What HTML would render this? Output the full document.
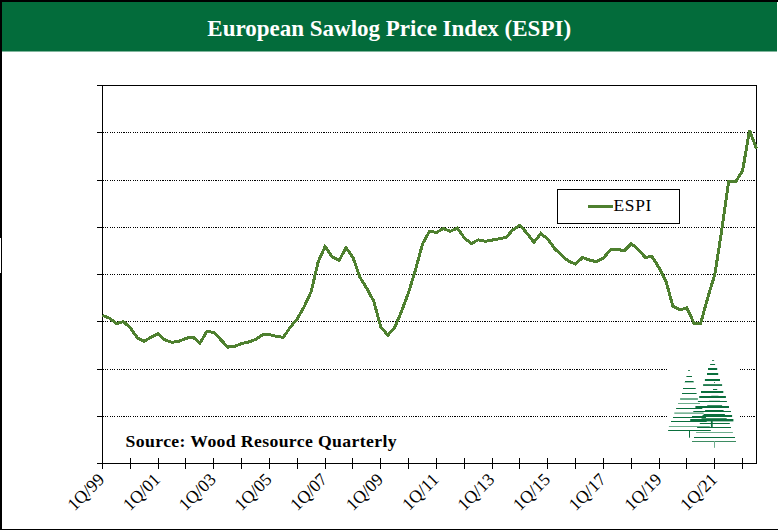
<!DOCTYPE html>
<html><head><meta charset="utf-8"><title>European Sawlog Price Index (ESPI)</title>
<style>
html,body{margin:0;padding:0;background:#fff;}
body{width:778px;height:530px;overflow:hidden;position:relative;font-family:"Liberation Serif",serif;}
svg{position:absolute;left:0;top:0;display:block;}
text{font-family:"Liberation Serif",serif;}
</style></head><body>
<svg width="778" height="530" viewBox="0 0 778 530">
<rect x="0" y="0" width="778" height="530" fill="#ffffff"/>
<!-- banner -->
<rect x="2" y="2" width="775" height="49.5" fill="#036c3b"/>
<!-- outer borders -->
<rect x="0" y="0" width="778" height="2" fill="#000"/>
<rect x="0" y="0" width="2" height="530" fill="#000"/>
<rect x="0" y="238" width="1" height="35" fill="#fff"/>
<rect x="0" y="529" width="778" height="1" fill="#000"/>
<text x="389.2" y="35.8" text-anchor="middle" font-size="23" font-weight="bold" fill="#ffffff">European Sawlog Price Index (ESPI)</text>
<!-- gridlines -->
<g stroke="#000" stroke-width="1" fill="none" shape-rendering="crispEdges"><path transform="translate(0 132.5)" d="M103 0h1m1 0h1m1 0h1m2 0h1m1 0h1m1 0h1m2 0h1m1 0h1m1 0h1m1 0h2m1 0h1m1 0h1m1 0h1m2 0h1m1 0h1m1 0h1m2 0h1m1 0h1m1 0h1m1 0h2m1 0h1m1 0h1m1 0h1m2 0h1m1 0h1m1 0h1m1 0h2m1 0h1m1 0h1m1 0h2m1 0h1m1 0h1m1 0h1m2 0h1m1 0h1m1 0h1m1 0h2m1 0h1m1 0h1m1 0h2m1 0h1m1 0h1m1 0h1m2 0h1m1 0h1m1 0h1m1 0h2m1 0h1m1 0h1m1 0h2m1 0h1m1 0h1m1 0h1m2 0h1m1 0h1m1 0h1m1 0h2m1 0h1m1 0h1m1 0h2m1 0h1m1 0h1m1 0h1m2 0h1m1 0h1m1 0h1m1 0h2m1 0h1m1 0h1m1 0h2m1 0h1m1 0h1m1 0h1m2 0h1m1 0h1m1 0h1m1 0h2m1 0h1m1 0h1m1 0h2m1 0h1m1 0h1m1 0h1m2 0h1m1 0h1m1 0h1m1 0h2m1 0h1m1 0h1m1 0h1m2 0h1m1 0h1m1 0h1m2 0h1m1 0h1m1 0h1m1 0h2m1 0h1m1 0h1m1 0h1m2 0h1m1 0h1m1 0h1m2 0h1m1 0h1m1 0h1m1 0h2m1 0h1m1 0h1m1 0h1m2 0h1m1 0h1m1 0h1m2 0h1m1 0h1m1 0h1m1 0h2m1 0h1m1 0h1m1 0h1m2 0h1m1 0h1m1 0h1m2 0h1m1 0h1m1 0h1m1 0h2m1 0h1m1 0h1m1 0h1m2 0h1m1 0h1m1 0h1m2 0h1m1 0h1m1 0h1m1 0h2m1 0h1m1 0h1m1 0h1m2 0h1m1 0h1m1 0h1m2 0h1m1 0h1m1 0h1m1 0h2m1 0h1m1 0h1m1 0h1m2 0h1m1 0h1m1 0h1m1 0h2m1 0h1m1 0h1m1 0h2m1 0h1m1 0h1m1 0h1m2 0h1m1 0h1m1 0h1m1 0h2m1 0h1m1 0h1m1 0h2m1 0h1m1 0h1m1 0h1m2 0h1m1 0h1m1 0h1m1 0h2m1 0h1m1 0h1m1 0h2m1 0h1m1 0h1m1 0h1m2 0h1m1 0h1m1 0h1m1 0h2m1 0h1m1 0h1m1 0h2m1 0h1m1 0h1m1 0h1m2 0h1m1 0h1m1 0h1m1 0h2m1 0h1m1 0h1m1 0h2m1 0h1m1 0h1m1 0h1m2 0h1m1 0h1m1 0h1m1 0h2m1 0h1m1 0h1m1 0h2m1 0h1m1 0h1m1 0h1m2 0h1m1 0h1m1 0h1m1 0h2m1 0h1m1 0h1m1 0h2m1 0h1m1 0h1m1 0h1m2 0h1m1 0h1m1 0h1m1 0h2m1 0h1m1 0h1m1 0h1m2 0h1m1 0h1m1 0h1m2 0h1m1 0h1m1 0h1m1 0h2m1 0h1m1 0h1m1 0h1m2 0h1m1 0h1m1 0h1m2 0h1m1 0h1m1 0h1m1 0h2m1 0h1m1 0h1m1 0h1m2 0h1m1 0h1m1 0h1m2 0h1m1 0h1m1 0h1m1 0h2m1 0h1m1 0h1m1 0h1m2 0h1m1 0h1m1 0h1m2 0h1m1 0h1m1 0h1m1 0h2m1 0h1m1 0h1m1 0h1m2 0h1m1 0h1m1 0h1m2 0h1m1 0h1m1 0h1m1 0h2m1 0h1m1 0h1m1 0h1m2 0h1m1 0h1m1 0h1m2 0h1m1 0h1m1 0h1m1 0h2"/><path transform="translate(0 180.5)" d="M103 0h1m1 0h1m1 0h1m2 0h1m1 0h1m1 0h1m2 0h1m1 0h1m1 0h1m1 0h2m1 0h1m1 0h1m1 0h1m2 0h1m1 0h1m1 0h1m2 0h1m1 0h1m1 0h1m1 0h2m1 0h1m1 0h1m1 0h1m2 0h1m1 0h1m1 0h1m1 0h2m1 0h1m1 0h1m1 0h2m1 0h1m1 0h1m1 0h1m2 0h1m1 0h1m1 0h1m1 0h2m1 0h1m1 0h1m1 0h2m1 0h1m1 0h1m1 0h1m2 0h1m1 0h1m1 0h1m1 0h2m1 0h1m1 0h1m1 0h2m1 0h1m1 0h1m1 0h1m2 0h1m1 0h1m1 0h1m1 0h2m1 0h1m1 0h1m1 0h2m1 0h1m1 0h1m1 0h1m2 0h1m1 0h1m1 0h1m1 0h2m1 0h1m1 0h1m1 0h2m1 0h1m1 0h1m1 0h1m2 0h1m1 0h1m1 0h1m1 0h2m1 0h1m1 0h1m1 0h2m1 0h1m1 0h1m1 0h1m2 0h1m1 0h1m1 0h1m1 0h2m1 0h1m1 0h1m1 0h1m2 0h1m1 0h1m1 0h1m2 0h1m1 0h1m1 0h1m1 0h2m1 0h1m1 0h1m1 0h1m2 0h1m1 0h1m1 0h1m2 0h1m1 0h1m1 0h1m1 0h2m1 0h1m1 0h1m1 0h1m2 0h1m1 0h1m1 0h1m2 0h1m1 0h1m1 0h1m1 0h2m1 0h1m1 0h1m1 0h1m2 0h1m1 0h1m1 0h1m2 0h1m1 0h1m1 0h1m1 0h2m1 0h1m1 0h1m1 0h1m2 0h1m1 0h1m1 0h1m2 0h1m1 0h1m1 0h1m1 0h2m1 0h1m1 0h1m1 0h1m2 0h1m1 0h1m1 0h1m2 0h1m1 0h1m1 0h1m1 0h2m1 0h1m1 0h1m1 0h1m2 0h1m1 0h1m1 0h1m1 0h2m1 0h1m1 0h1m1 0h2m1 0h1m1 0h1m1 0h1m2 0h1m1 0h1m1 0h1m1 0h2m1 0h1m1 0h1m1 0h2m1 0h1m1 0h1m1 0h1m2 0h1m1 0h1m1 0h1m1 0h2m1 0h1m1 0h1m1 0h2m1 0h1m1 0h1m1 0h1m2 0h1m1 0h1m1 0h1m1 0h2m1 0h1m1 0h1m1 0h2m1 0h1m1 0h1m1 0h1m2 0h1m1 0h1m1 0h1m1 0h2m1 0h1m1 0h1m1 0h2m1 0h1m1 0h1m1 0h1m2 0h1m1 0h1m1 0h1m1 0h2m1 0h1m1 0h1m1 0h2m1 0h1m1 0h1m1 0h1m2 0h1m1 0h1m1 0h1m1 0h2m1 0h1m1 0h1m1 0h2m1 0h1m1 0h1m1 0h1m2 0h1m1 0h1m1 0h1m1 0h2m1 0h1m1 0h1m1 0h1m2 0h1m1 0h1m1 0h1m2 0h1m1 0h1m1 0h1m1 0h2m1 0h1m1 0h1m1 0h1m2 0h1m1 0h1m1 0h1m2 0h1m1 0h1m1 0h1m1 0h2m1 0h1m1 0h1m1 0h1m2 0h1m1 0h1m1 0h1m2 0h1m1 0h1m1 0h1m1 0h2m1 0h1m1 0h1m1 0h1m2 0h1m1 0h1m1 0h1m2 0h1m1 0h1m1 0h1m1 0h2m1 0h1m1 0h1m1 0h1m2 0h1m1 0h1m1 0h1m2 0h1m1 0h1m1 0h1m1 0h2m1 0h1m1 0h1m1 0h1m2 0h1m1 0h1m1 0h1m2 0h1m1 0h1m1 0h1m1 0h2"/><path transform="translate(0 227.5)" d="M103 0h1m1 0h1m1 0h1m2 0h1m1 0h1m1 0h1m2 0h1m1 0h1m1 0h1m1 0h2m1 0h1m1 0h1m1 0h1m2 0h1m1 0h1m1 0h1m2 0h1m1 0h1m1 0h1m1 0h2m1 0h1m1 0h1m1 0h1m2 0h1m1 0h1m1 0h1m1 0h2m1 0h1m1 0h1m1 0h2m1 0h1m1 0h1m1 0h1m2 0h1m1 0h1m1 0h1m1 0h2m1 0h1m1 0h1m1 0h2m1 0h1m1 0h1m1 0h1m2 0h1m1 0h1m1 0h1m1 0h2m1 0h1m1 0h1m1 0h2m1 0h1m1 0h1m1 0h1m2 0h1m1 0h1m1 0h1m1 0h2m1 0h1m1 0h1m1 0h2m1 0h1m1 0h1m1 0h1m2 0h1m1 0h1m1 0h1m1 0h2m1 0h1m1 0h1m1 0h2m1 0h1m1 0h1m1 0h1m2 0h1m1 0h1m1 0h1m1 0h2m1 0h1m1 0h1m1 0h2m1 0h1m1 0h1m1 0h1m2 0h1m1 0h1m1 0h1m1 0h2m1 0h1m1 0h1m1 0h1m2 0h1m1 0h1m1 0h1m2 0h1m1 0h1m1 0h1m1 0h2m1 0h1m1 0h1m1 0h1m2 0h1m1 0h1m1 0h1m2 0h1m1 0h1m1 0h1m1 0h2m1 0h1m1 0h1m1 0h1m2 0h1m1 0h1m1 0h1m2 0h1m1 0h1m1 0h1m1 0h2m1 0h1m1 0h1m1 0h1m2 0h1m1 0h1m1 0h1m2 0h1m1 0h1m1 0h1m1 0h2m1 0h1m1 0h1m1 0h1m2 0h1m1 0h1m1 0h1m2 0h1m1 0h1m1 0h1m1 0h2m1 0h1m1 0h1m1 0h1m2 0h1m1 0h1m1 0h1m2 0h1m1 0h1m1 0h1m1 0h2m1 0h1m1 0h1m1 0h1m2 0h1m1 0h1m1 0h1m1 0h2m1 0h1m1 0h1m1 0h2m1 0h1m1 0h1m1 0h1m2 0h1m1 0h1m1 0h1m1 0h2m1 0h1m1 0h1m1 0h2m1 0h1m1 0h1m1 0h1m2 0h1m1 0h1m1 0h1m1 0h2m1 0h1m1 0h1m1 0h2m1 0h1m1 0h1m1 0h1m2 0h1m1 0h1m1 0h1m1 0h2m1 0h1m1 0h1m1 0h2m1 0h1m1 0h1m1 0h1m2 0h1m1 0h1m1 0h1m1 0h2m1 0h1m1 0h1m1 0h2m1 0h1m1 0h1m1 0h1m2 0h1m1 0h1m1 0h1m1 0h2m1 0h1m1 0h1m1 0h2m1 0h1m1 0h1m1 0h1m2 0h1m1 0h1m1 0h1m1 0h2m1 0h1m1 0h1m1 0h2m1 0h1m1 0h1m1 0h1m2 0h1m1 0h1m1 0h1m1 0h2m1 0h1m1 0h1m1 0h1m2 0h1m1 0h1m1 0h1m2 0h1m1 0h1m1 0h1m1 0h2m1 0h1m1 0h1m1 0h1m2 0h1m1 0h1m1 0h1m2 0h1m1 0h1m1 0h1m1 0h2m1 0h1m1 0h1m1 0h1m2 0h1m1 0h1m1 0h1m2 0h1m1 0h1m1 0h1m1 0h2m1 0h1m1 0h1m1 0h1m2 0h1m1 0h1m1 0h1m2 0h1m1 0h1m1 0h1m1 0h2m1 0h1m1 0h1m1 0h1m2 0h1m1 0h1m1 0h1m2 0h1m1 0h1m1 0h1m1 0h2m1 0h1m1 0h1m1 0h1m2 0h1m1 0h1m1 0h1m2 0h1m1 0h1m1 0h1m1 0h2"/><path transform="translate(0 274.5)" d="M103 0h1m1 0h1m1 0h1m2 0h1m1 0h1m1 0h1m2 0h1m1 0h1m1 0h1m1 0h2m1 0h1m1 0h1m1 0h1m2 0h1m1 0h1m1 0h1m2 0h1m1 0h1m1 0h1m1 0h2m1 0h1m1 0h1m1 0h1m2 0h1m1 0h1m1 0h1m1 0h2m1 0h1m1 0h1m1 0h2m1 0h1m1 0h1m1 0h1m2 0h1m1 0h1m1 0h1m1 0h2m1 0h1m1 0h1m1 0h2m1 0h1m1 0h1m1 0h1m2 0h1m1 0h1m1 0h1m1 0h2m1 0h1m1 0h1m1 0h2m1 0h1m1 0h1m1 0h1m2 0h1m1 0h1m1 0h1m1 0h2m1 0h1m1 0h1m1 0h2m1 0h1m1 0h1m1 0h1m2 0h1m1 0h1m1 0h1m1 0h2m1 0h1m1 0h1m1 0h2m1 0h1m1 0h1m1 0h1m2 0h1m1 0h1m1 0h1m1 0h2m1 0h1m1 0h1m1 0h2m1 0h1m1 0h1m1 0h1m2 0h1m1 0h1m1 0h1m1 0h2m1 0h1m1 0h1m1 0h1m2 0h1m1 0h1m1 0h1m2 0h1m1 0h1m1 0h1m1 0h2m1 0h1m1 0h1m1 0h1m2 0h1m1 0h1m1 0h1m2 0h1m1 0h1m1 0h1m1 0h2m1 0h1m1 0h1m1 0h1m2 0h1m1 0h1m1 0h1m2 0h1m1 0h1m1 0h1m1 0h2m1 0h1m1 0h1m1 0h1m2 0h1m1 0h1m1 0h1m2 0h1m1 0h1m1 0h1m1 0h2m1 0h1m1 0h1m1 0h1m2 0h1m1 0h1m1 0h1m2 0h1m1 0h1m1 0h1m1 0h2m1 0h1m1 0h1m1 0h1m2 0h1m1 0h1m1 0h1m2 0h1m1 0h1m1 0h1m1 0h2m1 0h1m1 0h1m1 0h1m2 0h1m1 0h1m1 0h1m1 0h2m1 0h1m1 0h1m1 0h2m1 0h1m1 0h1m1 0h1m2 0h1m1 0h1m1 0h1m1 0h2m1 0h1m1 0h1m1 0h2m1 0h1m1 0h1m1 0h1m2 0h1m1 0h1m1 0h1m1 0h2m1 0h1m1 0h1m1 0h2m1 0h1m1 0h1m1 0h1m2 0h1m1 0h1m1 0h1m1 0h2m1 0h1m1 0h1m1 0h2m1 0h1m1 0h1m1 0h1m2 0h1m1 0h1m1 0h1m1 0h2m1 0h1m1 0h1m1 0h2m1 0h1m1 0h1m1 0h1m2 0h1m1 0h1m1 0h1m1 0h2m1 0h1m1 0h1m1 0h2m1 0h1m1 0h1m1 0h1m2 0h1m1 0h1m1 0h1m1 0h2m1 0h1m1 0h1m1 0h2m1 0h1m1 0h1m1 0h1m2 0h1m1 0h1m1 0h1m1 0h2m1 0h1m1 0h1m1 0h1m2 0h1m1 0h1m1 0h1m2 0h1m1 0h1m1 0h1m1 0h2m1 0h1m1 0h1m1 0h1m2 0h1m1 0h1m1 0h1m2 0h1m1 0h1m1 0h1m1 0h2m1 0h1m1 0h1m1 0h1m2 0h1m1 0h1m1 0h1m2 0h1m1 0h1m1 0h1m1 0h2m1 0h1m1 0h1m1 0h1m2 0h1m1 0h1m1 0h1m2 0h1m1 0h1m1 0h1m1 0h2m1 0h1m1 0h1m1 0h1m2 0h1m1 0h1m1 0h1m2 0h1m1 0h1m1 0h1m1 0h2m1 0h1m1 0h1m1 0h1m2 0h1m1 0h1m1 0h1m2 0h1m1 0h1m1 0h1m1 0h2"/><path transform="translate(0 321.5)" d="M103 0h1m1 0h1m1 0h1m2 0h1m1 0h1m1 0h1m2 0h1m1 0h1m1 0h1m1 0h2m1 0h1m1 0h1m1 0h1m2 0h1m1 0h1m1 0h1m2 0h1m1 0h1m1 0h1m1 0h2m1 0h1m1 0h1m1 0h1m2 0h1m1 0h1m1 0h1m1 0h2m1 0h1m1 0h1m1 0h2m1 0h1m1 0h1m1 0h1m2 0h1m1 0h1m1 0h1m1 0h2m1 0h1m1 0h1m1 0h2m1 0h1m1 0h1m1 0h1m2 0h1m1 0h1m1 0h1m1 0h2m1 0h1m1 0h1m1 0h2m1 0h1m1 0h1m1 0h1m2 0h1m1 0h1m1 0h1m1 0h2m1 0h1m1 0h1m1 0h2m1 0h1m1 0h1m1 0h1m2 0h1m1 0h1m1 0h1m1 0h2m1 0h1m1 0h1m1 0h2m1 0h1m1 0h1m1 0h1m2 0h1m1 0h1m1 0h1m1 0h2m1 0h1m1 0h1m1 0h2m1 0h1m1 0h1m1 0h1m2 0h1m1 0h1m1 0h1m1 0h2m1 0h1m1 0h1m1 0h1m2 0h1m1 0h1m1 0h1m2 0h1m1 0h1m1 0h1m1 0h2m1 0h1m1 0h1m1 0h1m2 0h1m1 0h1m1 0h1m2 0h1m1 0h1m1 0h1m1 0h2m1 0h1m1 0h1m1 0h1m2 0h1m1 0h1m1 0h1m2 0h1m1 0h1m1 0h1m1 0h2m1 0h1m1 0h1m1 0h1m2 0h1m1 0h1m1 0h1m2 0h1m1 0h1m1 0h1m1 0h2m1 0h1m1 0h1m1 0h1m2 0h1m1 0h1m1 0h1m2 0h1m1 0h1m1 0h1m1 0h2m1 0h1m1 0h1m1 0h1m2 0h1m1 0h1m1 0h1m2 0h1m1 0h1m1 0h1m1 0h2m1 0h1m1 0h1m1 0h1m2 0h1m1 0h1m1 0h1m1 0h2m1 0h1m1 0h1m1 0h2m1 0h1m1 0h1m1 0h1m2 0h1m1 0h1m1 0h1m1 0h2m1 0h1m1 0h1m1 0h2m1 0h1m1 0h1m1 0h1m2 0h1m1 0h1m1 0h1m1 0h2m1 0h1m1 0h1m1 0h2m1 0h1m1 0h1m1 0h1m2 0h1m1 0h1m1 0h1m1 0h2m1 0h1m1 0h1m1 0h2m1 0h1m1 0h1m1 0h1m2 0h1m1 0h1m1 0h1m1 0h2m1 0h1m1 0h1m1 0h2m1 0h1m1 0h1m1 0h1m2 0h1m1 0h1m1 0h1m1 0h2m1 0h1m1 0h1m1 0h2m1 0h1m1 0h1m1 0h1m2 0h1m1 0h1m1 0h1m1 0h2m1 0h1m1 0h1m1 0h2m1 0h1m1 0h1m1 0h1m2 0h1m1 0h1m1 0h1m1 0h2m1 0h1m1 0h1m1 0h1m2 0h1m1 0h1m1 0h1m2 0h1m1 0h1m1 0h1m1 0h2m1 0h1m1 0h1m1 0h1m2 0h1m1 0h1m1 0h1m2 0h1m1 0h1m1 0h1m1 0h2m1 0h1m1 0h1m1 0h1m2 0h1m1 0h1m1 0h1m2 0h1m1 0h1m1 0h1m1 0h2m1 0h1m1 0h1m1 0h1m2 0h1m1 0h1m1 0h1m2 0h1m1 0h1m1 0h1m1 0h2m1 0h1m1 0h1m1 0h1m2 0h1m1 0h1m1 0h1m2 0h1m1 0h1m1 0h1m1 0h2m1 0h1m1 0h1m1 0h1m2 0h1m1 0h1m1 0h1m2 0h1m1 0h1m1 0h1m1 0h2"/><path transform="translate(0 369.5)" d="M103 0h1m1 0h1m1 0h1m2 0h1m1 0h1m1 0h1m2 0h1m1 0h1m1 0h1m1 0h2m1 0h1m1 0h1m1 0h1m2 0h1m1 0h1m1 0h1m2 0h1m1 0h1m1 0h1m1 0h2m1 0h1m1 0h1m1 0h1m2 0h1m1 0h1m1 0h1m1 0h2m1 0h1m1 0h1m1 0h2m1 0h1m1 0h1m1 0h1m2 0h1m1 0h1m1 0h1m1 0h2m1 0h1m1 0h1m1 0h2m1 0h1m1 0h1m1 0h1m2 0h1m1 0h1m1 0h1m1 0h2m1 0h1m1 0h1m1 0h2m1 0h1m1 0h1m1 0h1m2 0h1m1 0h1m1 0h1m1 0h2m1 0h1m1 0h1m1 0h2m1 0h1m1 0h1m1 0h1m2 0h1m1 0h1m1 0h1m1 0h2m1 0h1m1 0h1m1 0h2m1 0h1m1 0h1m1 0h1m2 0h1m1 0h1m1 0h1m1 0h2m1 0h1m1 0h1m1 0h2m1 0h1m1 0h1m1 0h1m2 0h1m1 0h1m1 0h1m1 0h2m1 0h1m1 0h1m1 0h1m2 0h1m1 0h1m1 0h1m2 0h1m1 0h1m1 0h1m1 0h2m1 0h1m1 0h1m1 0h1m2 0h1m1 0h1m1 0h1m2 0h1m1 0h1m1 0h1m1 0h2m1 0h1m1 0h1m1 0h1m2 0h1m1 0h1m1 0h1m2 0h1m1 0h1m1 0h1m1 0h2m1 0h1m1 0h1m1 0h1m2 0h1m1 0h1m1 0h1m2 0h1m1 0h1m1 0h1m1 0h2m1 0h1m1 0h1m1 0h1m2 0h1m1 0h1m1 0h1m2 0h1m1 0h1m1 0h1m1 0h2m1 0h1m1 0h1m1 0h1m2 0h1m1 0h1m1 0h1m2 0h1m1 0h1m1 0h1m1 0h2m1 0h1m1 0h1m1 0h1m2 0h1m1 0h1m1 0h1m1 0h2m1 0h1m1 0h1m1 0h2m1 0h1m1 0h1m1 0h1m2 0h1m1 0h1m1 0h1m1 0h2m1 0h1m1 0h1m1 0h2m1 0h1m1 0h1m1 0h1m2 0h1m1 0h1m1 0h1m1 0h2m1 0h1m1 0h1m1 0h2m1 0h1m1 0h1m1 0h1m2 0h1m1 0h1m1 0h1m1 0h2m1 0h1m1 0h1m1 0h2m1 0h1m1 0h1m1 0h1m2 0h1m1 0h1m1 0h1m1 0h2m1 0h1m1 0h1m1 0h2m1 0h1m1 0h1m1 0h1m2 0h1m1 0h1m1 0h1m1 0h2m1 0h1m1 0h1m1 0h2m1 0h1m1 0h1m1 0h1m2 0h1m1 0h1m1 0h1m1 0h2m1 0h1m1 0h1m1 0h2m1 0h1m1 0h1m1 0h1m2 0h1m1 0h1m1 0h1m1 0h2m1 0h1m1 0h1m1 0h1m2 0h1m1 0h1m1 0h1m2 0h1m1 0h1m1 0h1m1 0h2m1 0h1m1 0h1m1 0h1m2 0h1m1 0h1m1 0h1m2 0h1m1 0h1m1 0h1m1 0h2m1 0h1m1 0h1m1 0h1m2 0h1m1 0h1m1 0h1m2 0h1m1 0h1m1 0h1m1 0h2m1 0h1m1 0h1m1 0h1m2 0h1m1 0h1m1 0h1m2 0h1m1 0h1m1 0h1m1 0h2m1 0h1m1 0h1m1 0h1m2 0h1m1 0h1m1 0h1m2 0h1m1 0h1m1 0h1m1 0h2m1 0h1m1 0h1m1 0h1m2 0h1m1 0h1m1 0h1m2 0h1m1 0h1m1 0h1m1 0h2"/><path transform="translate(0 416.5)" d="M103 0h1m1 0h1m1 0h1m2 0h1m1 0h1m1 0h1m2 0h1m1 0h1m1 0h1m1 0h2m1 0h1m1 0h1m1 0h1m2 0h1m1 0h1m1 0h1m2 0h1m1 0h1m1 0h1m1 0h2m1 0h1m1 0h1m1 0h1m2 0h1m1 0h1m1 0h1m1 0h2m1 0h1m1 0h1m1 0h2m1 0h1m1 0h1m1 0h1m2 0h1m1 0h1m1 0h1m1 0h2m1 0h1m1 0h1m1 0h2m1 0h1m1 0h1m1 0h1m2 0h1m1 0h1m1 0h1m1 0h2m1 0h1m1 0h1m1 0h2m1 0h1m1 0h1m1 0h1m2 0h1m1 0h1m1 0h1m1 0h2m1 0h1m1 0h1m1 0h2m1 0h1m1 0h1m1 0h1m2 0h1m1 0h1m1 0h1m1 0h2m1 0h1m1 0h1m1 0h2m1 0h1m1 0h1m1 0h1m2 0h1m1 0h1m1 0h1m1 0h2m1 0h1m1 0h1m1 0h2m1 0h1m1 0h1m1 0h1m2 0h1m1 0h1m1 0h1m1 0h2m1 0h1m1 0h1m1 0h1m2 0h1m1 0h1m1 0h1m2 0h1m1 0h1m1 0h1m1 0h2m1 0h1m1 0h1m1 0h1m2 0h1m1 0h1m1 0h1m2 0h1m1 0h1m1 0h1m1 0h2m1 0h1m1 0h1m1 0h1m2 0h1m1 0h1m1 0h1m2 0h1m1 0h1m1 0h1m1 0h2m1 0h1m1 0h1m1 0h1m2 0h1m1 0h1m1 0h1m2 0h1m1 0h1m1 0h1m1 0h2m1 0h1m1 0h1m1 0h1m2 0h1m1 0h1m1 0h1m2 0h1m1 0h1m1 0h1m1 0h2m1 0h1m1 0h1m1 0h1m2 0h1m1 0h1m1 0h1m2 0h1m1 0h1m1 0h1m1 0h2m1 0h1m1 0h1m1 0h1m2 0h1m1 0h1m1 0h1m1 0h2m1 0h1m1 0h1m1 0h2m1 0h1m1 0h1m1 0h1m2 0h1m1 0h1m1 0h1m1 0h2m1 0h1m1 0h1m1 0h2m1 0h1m1 0h1m1 0h1m2 0h1m1 0h1m1 0h1m1 0h2m1 0h1m1 0h1m1 0h2m1 0h1m1 0h1m1 0h1m2 0h1m1 0h1m1 0h1m1 0h2m1 0h1m1 0h1m1 0h2m1 0h1m1 0h1m1 0h1m2 0h1m1 0h1m1 0h1m1 0h2m1 0h1m1 0h1m1 0h2m1 0h1m1 0h1m1 0h1m2 0h1m1 0h1m1 0h1m1 0h2m1 0h1m1 0h1m1 0h2m1 0h1m1 0h1m1 0h1m2 0h1m1 0h1m1 0h1m1 0h2m1 0h1m1 0h1m1 0h2m1 0h1m1 0h1m1 0h1m2 0h1m1 0h1m1 0h1m1 0h2m1 0h1m1 0h1m1 0h1m2 0h1m1 0h1m1 0h1m2 0h1m1 0h1m1 0h1m1 0h2m1 0h1m1 0h1m1 0h1m2 0h1m1 0h1m1 0h1m2 0h1m1 0h1m1 0h1m1 0h2m1 0h1m1 0h1m1 0h1m2 0h1m1 0h1m1 0h1m2 0h1m1 0h1m1 0h1m1 0h2m1 0h1m1 0h1m1 0h1m2 0h1m1 0h1m1 0h1m2 0h1m1 0h1m1 0h1m1 0h2m1 0h1m1 0h1m1 0h1m2 0h1m1 0h1m1 0h1m2 0h1m1 0h1m1 0h1m1 0h2m1 0h1m1 0h1m1 0h1m2 0h1m1 0h1m1 0h1m2 0h1m1 0h1m1 0h1m1 0h2"/></g>
<!-- frame -->
<g stroke="#000" stroke-width="1" shape-rendering="crispEdges" fill="none">
<line x1="102.5" x2="102.5" y1="85" y2="469"/>
<line x1="756.5" x2="756.5" y1="85" y2="464"/>
<line x1="97" x2="757" y1="85.5" y2="85.5"/>
<line x1="97" x2="757" y1="463.5" y2="463.5"/>
<line x1="97" x2="102" y1="85.5" y2="85.5"/><line x1="97" x2="102" y1="132.5" y2="132.5"/><line x1="97" x2="102" y1="180.5" y2="180.5"/><line x1="97" x2="102" y1="227.5" y2="227.5"/><line x1="97" x2="102" y1="274.5" y2="274.5"/><line x1="97" x2="102" y1="321.5" y2="321.5"/><line x1="97" x2="102" y1="369.5" y2="369.5"/><line x1="97" x2="102" y1="416.5" y2="416.5"/><line x1="97" x2="102" y1="463.5" y2="463.5"/><line x1="102.50" x2="102.50" y1="458" y2="469"/><line x1="130.33" x2="130.33" y1="458" y2="469"/><line x1="158.15" x2="158.15" y1="458" y2="469"/><line x1="185.98" x2="185.98" y1="458" y2="469"/><line x1="213.80" x2="213.80" y1="458" y2="469"/><line x1="241.63" x2="241.63" y1="458" y2="469"/><line x1="269.46" x2="269.46" y1="458" y2="469"/><line x1="297.28" x2="297.28" y1="458" y2="469"/><line x1="325.11" x2="325.11" y1="458" y2="469"/><line x1="352.93" x2="352.93" y1="458" y2="469"/><line x1="380.76" x2="380.76" y1="458" y2="469"/><line x1="408.59" x2="408.59" y1="458" y2="469"/><line x1="436.41" x2="436.41" y1="458" y2="469"/><line x1="464.24" x2="464.24" y1="458" y2="469"/><line x1="492.06" x2="492.06" y1="458" y2="469"/><line x1="519.89" x2="519.89" y1="458" y2="469"/><line x1="547.72" x2="547.72" y1="458" y2="469"/><line x1="575.54" x2="575.54" y1="458" y2="469"/><line x1="603.37" x2="603.37" y1="458" y2="469"/><line x1="631.19" x2="631.19" y1="458" y2="469"/><line x1="659.02" x2="659.02" y1="458" y2="469"/><line x1="686.85" x2="686.85" y1="458" y2="469"/><line x1="714.67" x2="714.67" y1="458" y2="469"/><line x1="742.50" x2="742.50" y1="458" y2="469"/>
</g>
<!-- series -->
<polyline points="102.5,315.5 109.5,318.2 116.4,323.6 123.4,321.6 130.3,327.8 137.3,337.8 144.2,341.4 151.2,337.0 158.2,333.7 165.1,340.1 172.1,342.4 179.0,341.2 186.0,338.3 192.9,337.0 199.9,343.2 206.9,331.3 213.8,332.4 220.8,339.7 227.7,347.1 234.7,346.3 241.6,343.5 248.6,342.0 255.6,339.4 262.5,334.7 269.5,334.7 276.4,336.3 283.4,337.3 290.4,327.0 297.3,318.7 304.3,306.4 311.2,291.5 318.2,261.8 325.1,246.6 332.1,256.6 339.1,260.4 346.0,247.8 353.0,257.5 359.9,277.2 366.9,288.6 373.8,301.3 380.8,326.9 387.8,335.2 394.7,327.5 401.7,310.8 408.6,292.5 415.6,269.5 422.5,243.9 429.5,231.3 436.5,232.4 443.4,228.5 450.4,231.3 457.3,228.0 464.3,237.8 471.2,243.6 478.2,239.9 485.2,241.3 492.1,240.1 499.1,238.8 506.0,237.5 513.0,229.7 519.9,225.4 526.9,233.1 533.9,242.4 540.8,233.4 547.8,239.3 554.7,248.6 561.7,255.5 568.6,261.2 575.6,264.0 582.6,257.5 589.5,260.1 596.5,261.7 603.4,258.1 610.4,249.8 617.4,249.3 624.3,250.9 631.3,243.6 638.2,249.5 645.2,257.3 652.1,256.6 659.1,267.8 666.1,281.9 673.0,306.4 680.0,309.9 686.9,307.9 693.9,323.0 700.8,323.0 707.8,297.5 714.8,274.6 721.7,230.6 728.7,181.3 735.6,181.8 742.6,170.8 749.5,130.2 756.5,148.6" fill="none" stroke="#4e802f" stroke-width="3" stroke-linejoin="miter" stroke-miterlimit="3" stroke-linecap="butt" shape-rendering="crispEdges"/>
<!-- legend -->
<rect x="557.5" y="189.5" width="122" height="34" fill="#fff" stroke="#000" stroke-width="1" shape-rendering="crispEdges"/>
<line x1="588" x2="613" y1="206.5" y2="206.5" stroke="#4e802f" stroke-width="3" shape-rendering="crispEdges"/>
<text x="613.4" y="210.8" font-size="17.4" fill="#000" textLength="38" lengthAdjust="spacing">ESPI</text>
<!-- source -->
<text x="125.6" y="446.6" font-size="17.7" font-weight="bold" fill="#000" textLength="271" lengthAdjust="spacing">Source: Wood Resource Quarterly</text>
<!-- logo -->
<rect x="667" y="354" width="72.8" height="96" fill="#fff"/>
<g shape-rendering="auto"><rect x="688" y="370" width="2.0" height="1" fill="#3d8c62"/><rect x="686.4" y="376" width="5.6" height="1" fill="#0a6e3c"/><rect x="685" y="381" width="8.6" height="1" fill="#0a6e3c"/><rect x="684.6" y="382" width="9.2" height="1" fill="#a9cdb9"/><rect x="683.0" y="388" width="12.7" height="1" fill="#0a6e3c"/><rect x="682.0" y="393" width="14.6" height="1" fill="#0a6e3c"/><rect x="680.1" y="398" width="17.8" height="2" fill="#6fae8e"/><rect x="678.0" y="403" width="22.0" height="1" fill="#6fae8e"/><rect x="676.1" y="408" width="26.2" height="1" fill="#0a6e3c"/><rect x="674.3" y="412.4" width="29.3" height="1.5" fill="#6fae8e"/><rect x="673.0" y="417" width="33.0" height="1" fill="#0a6e3c"/><rect x="671.0" y="421" width="35.7" height="1" fill="#0a6e3c"/><rect x="668.9" y="426" width="40.9" height="1" fill="#6fae8e"/><rect x="668.1" y="430" width="42.7" height="1" fill="#0a6e3c"/><rect x="689" y="430" width="1.0" height="7.7" fill="#0a6e3c"/><rect x="712.0" y="360" width="2.1" height="1" fill="#3d8c62"/><rect x="710.1" y="364" width="5.0" height="1" fill="#0a6e3c"/><rect x="708.0" y="368" width="9.2" height="2" fill="#0a6e3c"/><rect x="707.0" y="373" width="11.2" height="2" fill="#0a6e3c"/><rect x="704.9" y="379" width="15.1" height="2" fill="#0a6e3c"/><rect x="714" y="382" width="1.0" height="1" fill="#3d8c62"/><rect x="703.1" y="384.2" width="19.0" height="1.7" fill="#0a6e3c"/><rect x="713.0" y="389" width="4.2" height="1" fill="#0a6e3c"/><rect x="701.0" y="391" width="22.3" height="2" fill="#0a6e3c"/><rect x="711.3" y="395" width="7.2" height="1" fill="#c2dccf"/><rect x="699.2" y="396" width="26.7" height="2" fill="#0a6e3c"/><rect x="709.2" y="400" width="10.8" height="1" fill="#c2dccf"/><rect x="697.9" y="401" width="29.0" height="1" fill="#0a6e3c"/><rect x="707.2" y="405" width="14.9" height="1" fill="#3d8c62"/><rect x="695.4" y="406" width="33.6" height="2" fill="#0a6e3c"/><rect x="705.1" y="410" width="18.5" height="1" fill="#0a6e3c"/><rect x="693.3" y="411" width="37.7" height="1" fill="#0a6e3c"/><rect x="703.6" y="414" width="21.3" height="1" fill="#0a6e3c"/><rect x="692.0" y="416" width="40.1" height="1" fill="#0a6e3c"/><rect x="702.5" y="415" width="29.6" height="1" fill="#0a6e3c"/><rect x="701.5" y="418" width="25.2" height="1" fill="#3d8c62"/><rect x="690.2" y="419" width="43.2" height="2.4" fill="#0a6e3c"/><rect x="699.8" y="423" width="30.0" height="1" fill="#0a6e3c"/><rect x="697.1" y="427" width="33.9" height="1" fill="#0a6e3c"/><rect x="710.9" y="420" width="1.8" height="7.5" fill="#0a6e3c"/><rect x="696.1" y="432" width="36.8" height="1" fill="#6fae8e"/><rect x="694.0" y="437" width="41.0" height="1" fill="#0a6e3c"/><rect x="692.0" y="441" width="44.0" height="1" fill="#3d8c62"/><rect x="714" y="441" width="1.0" height="6.8" fill="#6fae8e"/></g>
<!-- x labels -->
<g font-size="17.6" fill="#000"><text x="105.5" y="480.5" text-anchor="end" transform="rotate(-45 105.5 480.5)">1Q/99</text><text x="161.2" y="480.5" text-anchor="end" transform="rotate(-45 161.2 480.5)">1Q/01</text><text x="216.9" y="480.5" text-anchor="end" transform="rotate(-45 216.9 480.5)">1Q/03</text><text x="272.6" y="480.5" text-anchor="end" transform="rotate(-45 272.6 480.5)">1Q/05</text><text x="328.3" y="480.5" text-anchor="end" transform="rotate(-45 328.3 480.5)">1Q/07</text><text x="384.1" y="480.5" text-anchor="end" transform="rotate(-45 384.1 480.5)">1Q/09</text><text x="439.8" y="480.5" text-anchor="end" transform="rotate(-45 439.8 480.5)">1Q/11</text><text x="495.5" y="480.5" text-anchor="end" transform="rotate(-45 495.5 480.5)">1Q/13</text><text x="551.2" y="480.5" text-anchor="end" transform="rotate(-45 551.2 480.5)">1Q/15</text><text x="606.9" y="480.5" text-anchor="end" transform="rotate(-45 606.9 480.5)">1Q/17</text><text x="662.6" y="480.5" text-anchor="end" transform="rotate(-45 662.6 480.5)">1Q/19</text><text x="718.3" y="480.5" text-anchor="end" transform="rotate(-45 718.3 480.5)">1Q/21</text></g>
</svg>
</body></html>
